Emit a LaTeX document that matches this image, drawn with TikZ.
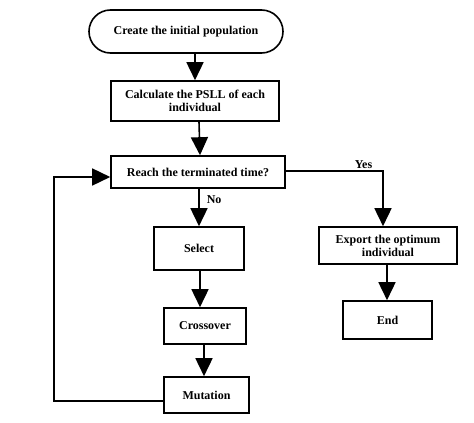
\documentclass[tikz,border=0pt]{standalone}
\usepackage{fontspec}
\setmainfont{Liberation Serif}
\usetikzlibrary{arrows.meta,shapes.misc}

\tikzset{flow_box/.style={draw=black, line width=1.6pt, rectangle, inner sep=0pt, align=center, font=\bfseries\fontsize{12}{13}\selectfont}}
\tikzset{flow_start/.style={flow_box, rounded rectangle}}
\tikzset{flow_edge/.style={line width=1.6pt, -{Triangle[length=18pt,width=17pt]}}}
\tikzset{edge_label/.style={font=\bfseries\fontsize{12}{13}\selectfont, inner sep=2pt}}

\begin{document}
\begin{tikzpicture}[x=1pt,y=-1pt]
    \useasboundingbox (0,0) rectangle (474,423);
    \node[flow_start, minimum width=194pt, minimum height=43pt] (start) at (186,31.5) {Create the initial population};
    \node[flow_box, minimum width=168pt, minimum height=40pt] (calc) at (195,101) {Calculate the PSLL of each\\individual};
    \node[flow_box, minimum width=174pt, minimum height=32pt] (reach) at (198,172) {Reach the terminated time?};
    \node[flow_box, minimum width=90pt, minimum height=43pt] (select) at (199,248.5) {Select};
    \node[flow_box, minimum width=82pt, minimum height=36pt] (cross) at (205,326) {Crossover};
    \node[flow_box, minimum width=85pt, minimum height=36pt] (mutate) at (206.5,395) {Mutation};
    \node[flow_box, minimum width=138pt, minimum height=37pt] (export) at (388,245.5) {Export the optimum\\individual};
    \node[flow_box, minimum width=89pt, minimum height=38pt] (finish) at (387.5,320) {End};
    \coordinate (loop) at (54,401);

    \draw[flow_edge] (calc.north |- start.south) -- (calc.north);
    \draw[flow_edge] ([xshift=4pt]calc.south) -- ([xshift=2pt]reach.north);
    \draw[flow_edge] (select.north |- reach.south) -- node[edge_label, anchor=west, pos=0.3, xshift=5pt]{No} (select.north);
    \draw[flow_edge] ([xshift=1pt]select.south) -- ([xshift=1pt]select.south |- cross.north);
    \draw[flow_edge] ([xshift=-1pt]cross.south) -- ([xshift=-1pt]cross.south |- mutate.north);
    \draw[flow_edge] ([yshift=-6pt]mutate.west) -- (loop) |- ([yshift=-5pt]reach.west);
    \draw[flow_edge] ([yshift=1pt]reach.east) -| node[edge_label, above, pos=0.4]{Yes} ([xshift=-5pt]export.north);
    \draw[flow_edge] ([xshift=-1pt]export.south) -- ([xshift=-1pt]export.south |- finish.north);
\end{tikzpicture}
\end{document}
